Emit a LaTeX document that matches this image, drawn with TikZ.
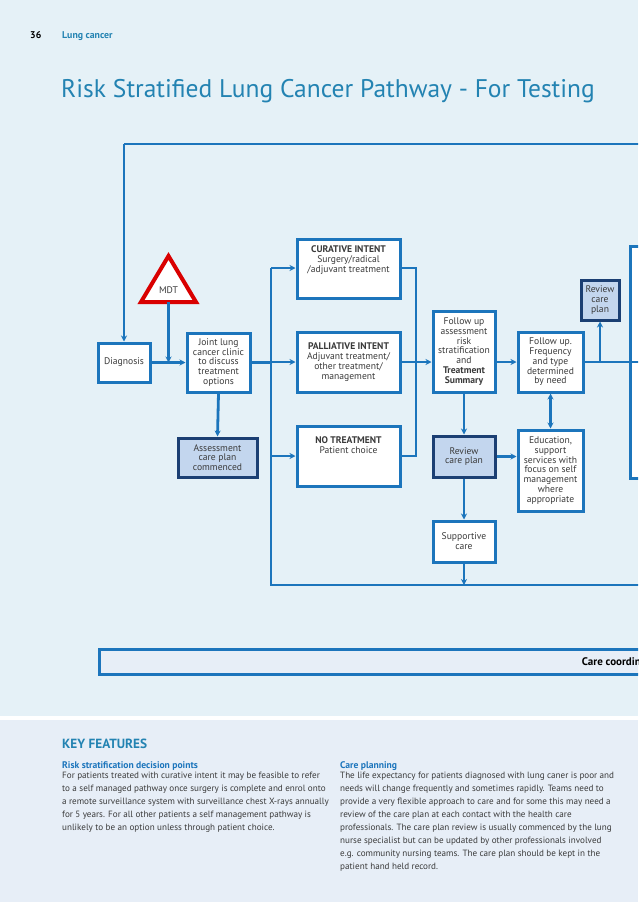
\documentclass[tikz,border=0pt]{standalone}
\usepackage{fontspec}
\setmainfont{PT Sans}
\usetikzlibrary{arrows.meta}
\definecolor{bgA}{HTML}{E5F1F7}
\definecolor{bgB}{HTML}{E7EEF7}
\definecolor{ln}{HTML}{1C75BC}
\definecolor{navy}{HTML}{1B3F73}
\definecolor{fillb}{HTML}{C3D6EE}
\definecolor{ttl}{HTML}{2383B2}
\definecolor{txt}{HTML}{3A3A3A}
\tikzset{
 box/.style={draw=ln,line width=3pt,fill=white,align=center,font=\fontsize{9.6}{9.8}\selectfont,text=txt,inner sep=1pt},
 rbox/.style={box,draw=navy,fill=fillb},
 conn/.style={draw=ln,line width=2.8pt},
 arr/.style={conn,-{Stealth[length=6pt,width=6pt]}},
 body/.style={anchor=north west,align=left,font=\fontsize{9.1}{13}\selectfont,text=txt,inner sep=0pt}
}
\begin{document}
\begin{tikzpicture}[x=1pt,y=-1pt]
\useasboundingbox (0,0) rectangle (638,902);
\clip (0,0) rectangle (638,902);
\fill[bgA] (0,0) rectangle (638,716);
\fill[white] (0,716) rectangle (638,720);
\fill[bgB] (0,720) rectangle (638,902);
\node[anchor=base west,font=\bfseries\fontsize{9.8}{10}\selectfont,inner sep=0] (pg) at (30,38) {36};
\node[anchor=base west,font=\bfseries\fontsize{9.8}{10}\selectfont,text=ttl,inner sep=0] (sec) at (62,38) {Lung cancer};
\node[anchor=base west,font=\fontsize{25.5}{27}\selectfont,text=ttl,inner sep=0] (title) at (61,97) {Risk Stratified Lung Cancer Pathway - For Testing};
% boxes
\node[box,minimum width=52,minimum height=39] (diag) at (124,362.5) {Diagnosis};
\coordinate (t1) at (141,302); \coordinate (t2) at (196,302); \coordinate (t3) at (168.5,256);
\draw[draw=red!85!black,line width=4pt,fill=white,line join=miter] (t1)--(t2)--(t3)--cycle;
\node[font=\fontsize{9.6}{10}\selectfont,text=txt] (mdt) at (168.5,290) {MDT};
\node[box,minimum width=63,minimum height=59] (joint) at (218.5,362.5) {Joint lung\\cancer clinic\\to discuss\\treatment\\options};
\node[rbox,minimum width=79,minimum height=39] (assess) at (217.5,457.5) {Assessment\\care plan\\commenced};
\node[box,minimum width=103,minimum height=59,anchor=north] (cur) at (348.5,238) {\textbf{CURATIVE INTENT}\\Surgery/radical\\/adjuvant treatment\\[10pt]};
\node[box,minimum width=103,minimum height=60] (pal) at (348.5,362) {\textbf{PALLIATIVE INTENT}\\Adjuvant treatment/\\other treatment/\\management};
\node[box,minimum width=103,minimum height=60] (none) at (348.5,456) {\textbf{NO TREATMENT}\\Patient choice\\[12pt]};
\node[box,minimum width=62,minimum height=81] (fua) at (464,351.5) {Follow up\\assessment\\risk\\stratification\\and\\\textbf{Treatment}\\\textbf{Summary}};
\node[rbox,minimum width=62,minimum height=41] (rev) at (464,456.5) {Review\\care plan};
\node[box,minimum width=62,minimum height=41] (sup) at (464,541.5) {Supportive\\care};
\node[box,minimum width=65,minimum height=60] (freq) at (550.5,362) {Follow up.\\Frequency\\and type\\determined\\by need};
\node[box,minimum width=65,minimum height=81] (edu) at (550.5,470.5) {Education,\\support\\services with\\focus on self\\management\\where\\appropriate};
\node[rbox,minimum width=38,minimum height=40] (revt) at (600,300) {Review\\care\\plan};
\node[box,minimum width=30,minimum height=232,anchor=north west] (rt) at (629,245) {};
% connectors
\coordinate (tl) at (124,144); \coordinate (tr) at (640,144);
\draw[conn] (tr) -- (tl);
\draw[arr] (tl) -- (diag.north);
\coordinate (m1) at (168.5,362.5);
\draw[arr] (diag.east) -- (joint.west);
\draw[arr] (mdt.south |- t1) -- (m1);
\draw[arr] (joint.south) -- (assess.north);
\coordinate (trTop) at (271,268); \coordinate (trBot) at (271,585); \coordinate (brR) at (640,585);
\draw[conn] (joint.east) -- (271,362.5);
\draw[conn] (trTop) -- (trBot) -- (brR);
\draw[arr] (trTop) -- (cur.west |- trTop);
\draw[arr] (271,362) -- (pal.west);
\draw[arr] (271,456) -- (none.west);
\coordinate (cR) at (416,268); \coordinate (nR) at (416,456);
\draw[conn] (cur.east |- cR) -- (cR) -- (nR) -- (none.east);
\draw[arr] (pal.east) -- (fua.west |- pal.east);
\draw[arr] (fua.east |- freq.west) -- (freq.west);
\draw[arr] (fua.south) -- (rev.north);
\draw[arr] (rev.south) -- (sup.north);
\draw[arr] (sup.south) -- (sup.south |- trBot);
\draw[arr] (rev.east) -- (edu.west |- rev.east);
\draw[conn,{Stealth[length=6pt,width=6pt]}-{Stealth[length=6pt,width=6pt]}] (freq.south) -- (edu.north);
\coordinate (fR) at (640,362);
\draw[conn] (freq.east) -- (fR);
\draw[arr] (revt.south |- freq.east) -- (revt.south);
% care coordination bar
\node[box,fill=bgB,minimum width=560,minimum height=25,anchor=north west] (cc) at (98,648) {};
\node[anchor=base east,font=\bfseries\fontsize{11}{12}\selectfont,inner sep=0] (cct) at (641,665) {Care coordin};
% key features
\node[anchor=base west,font=\bfseries\fontsize{13.3}{14}\selectfont,text=ttl,inner sep=0] (kf) at (62,748) {KEY FEATURES};
\node[anchor=base west,font=\bfseries\fontsize{9.6}{10}\selectfont,text=ln,inner sep=0] (h1) at (62,768) {Risk stratification decision points};
\node[anchor=base west,font=\bfseries\fontsize{9.6}{10}\selectfont,text=ln,inner sep=0] (h2) at (340,768) {Care planning};
\node[body] (b1) at (62,772) {For patients treated with curative intent it may be feasible to refer\\to a self managed pathway once surgery is complete and enrol onto\\a remote surveillance system with surveillance chest X-rays annually\\for 5 years. For all other patients a self management pathway is\\unlikely to be an option unless through patient choice.};
\node[body] (b2) at (340,772) {The life expectancy for patients diagnosed with lung caner is poor and\\needs will change frequently and sometimes rapidly. Teams need to\\provide a very flexible approach to care and for some this may need a\\review of the care plan at each contact with the health care\\professionals. The care plan review is usually commenced by the lung\\nurse specialist but can be updated by other professionals involved\\e.g. community nursing teams. The care plan should be kept in the\\patient hand held record.};
\end{tikzpicture}
\end{document}
